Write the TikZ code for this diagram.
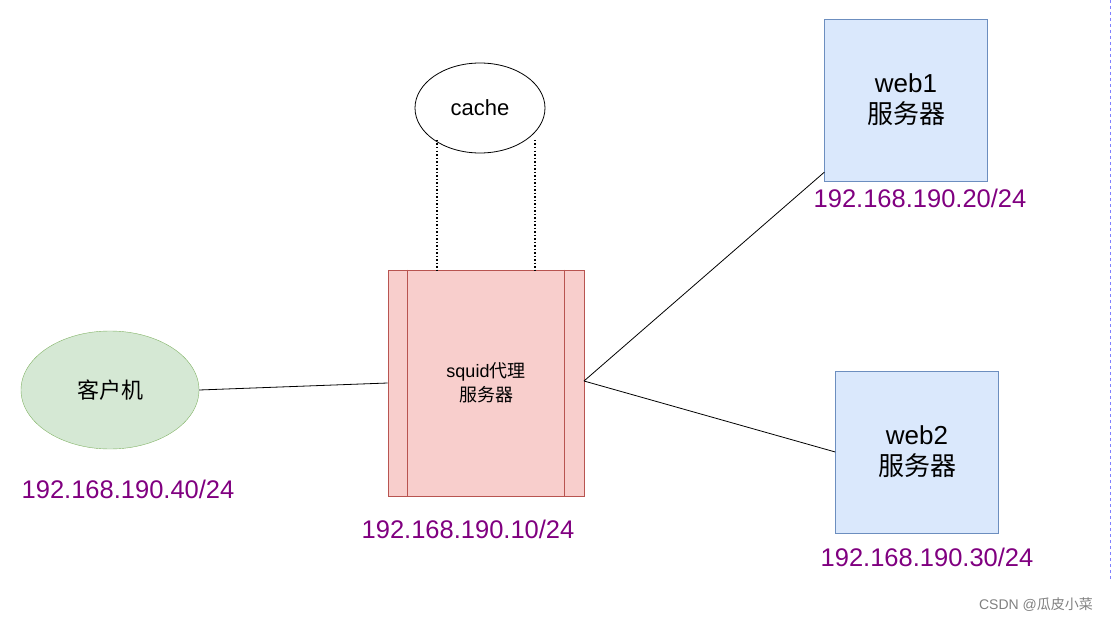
\documentclass[tikz,border=0pt]{standalone}
\usepackage{fontspec}
\setmainfont{Liberation Sans}
\newfontfamily\cjk{Noto Sans CJK SC}
\usetikzlibrary{shapes.geometric}
\definecolor{ipcol}{HTML}{800080}
\definecolor{redfill}{HTML}{F8CECC}
\definecolor{redline}{HTML}{B85450}
\definecolor{bluefill}{HTML}{DAE8FC}
\definecolor{blueline}{HTML}{6C8EBF}
\definecolor{greenfill}{HTML}{D5E8D4}
\definecolor{greenline}{HTML}{82B366}
\tikzset{
  web/.style={draw=blueline, fill=bluefill, minimum width=163pt, minimum height=162pt, align=center, font=\fontsize{26}{31}\selectfont},
  ip/.style={text=ipcol, font=\fontsize{25.5}{28}\selectfont},
  link/.style={draw=black, line width=0.8pt}
}
\begin{document}
\begin{tikzpicture}[x=1pt,y=-1pt]
  \useasboundingbox (0,0) rectangle (1116,623);
  \node[ellipse, draw, line width=0.8pt, minimum width=130pt, minimum height=90pt, font=\fontsize{22}{26}\selectfont] (cache) at (480,108) {cache};
  \node[draw=redline, fill=redfill, minimum width=196pt, minimum height=226pt, line width=0.8pt] (squid) at (486,383) {};
  \draw[redline, line width=0.8pt] ([xshift=20pt]squid.north west) -- ([xshift=20pt]squid.south west)
    ([xshift=-20pt]squid.north east) -- ([xshift=-20pt]squid.south east);
  \node[align=center, font=\fontsize{18}{24}\selectfont] (squidtxt) at (486,383) {squid{\cjk 代理}\\{\cjk 服务器}};
  \node[ellipse, draw=greenline, fill=greenfill, minimum width=178pt, minimum height=118pt, font=\fontsize{22}{26}\selectfont\cjk] (client) at (110,390) {客户机};
  \node[web] (web1) at (906,100) {web1\\{\cjk 服务器}};
  \node[web] (web2) at (917,452) {web2\\{\cjk 服务器}};
  \coordinate (c1) at (437,140);
  \coordinate (c2) at (535,140);
  \coordinate (s1) at (437,270);
  \coordinate (s2) at (535,270);
  \draw[dotted, line width=1.5pt] (c1) -- (s1) (c2) -- (s2);
  \coordinate (sq) at (584,381);
  \draw[link] (client.east) -- (squid.west);
  \draw[link] (sq) -- ([yshift=9pt]web1.south west);
  \draw[link] (sq) -- (web2.west);
  \node[ip] (ip1) at (920,198) {192.168.190.20/24};
  \node[ip] (ip4) at (128,489) {192.168.190.40/24};
  \node[ip] (ip0) at (468,529) {192.168.190.10/24};
  \node[ip] (ip3) at (927,557) {192.168.190.30/24};
  \node[text=gray, font=\fontsize{14}{16}\selectfont] (mark) at (1036,605) {CSDN @{\cjk 瓜皮小菜}};
  \coordinate (e1) at (1110,0);
  \coordinate (e2) at (1110,580);
  \draw[blue!50, dashed] (e1) -- (e2);
\end{tikzpicture}
\end{document}
